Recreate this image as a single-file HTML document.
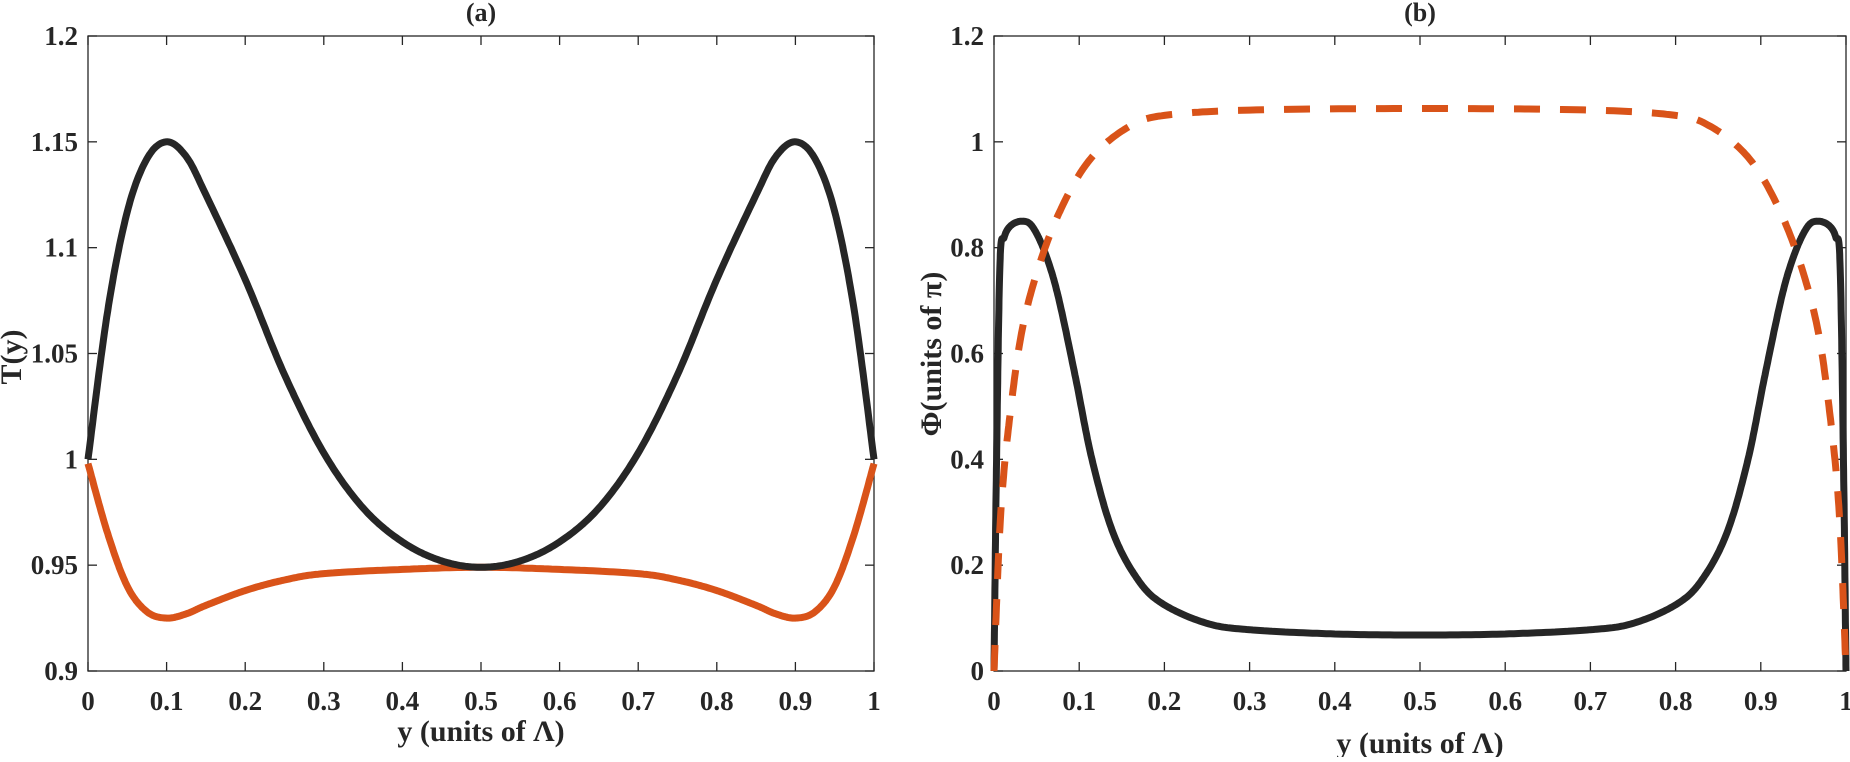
<!DOCTYPE html>
<html><head><meta charset="utf-8"><style>
html,body{margin:0;padding:0;background:#fff;}
svg text{font-family:"Liberation Serif",serif;font-weight:bold;fill:#262626;}
</style></head><body>
<svg id="s" width="1850" height="757" xmlns="http://www.w3.org/2000/svg">
<rect width="1850" height="757" fill="#fff"/>
<g id="g"></g>
</svg>
<script>
var NS="http://www.w3.org/2000/svg",g=document.getElementById('g');
function el(t,a,txt){var e=document.createElementNS(NS,t);for(var k in a)e.setAttribute(k,a[k]);if(txt!==undefined)e.textContent=txt;g.appendChild(e);return e;}
function axes(x0,x1,y0,y1,ymin,ymax,ystep,dec){
  el('rect',{x:x0,y:y0,width:x1-x0,height:y1-y0,fill:'none',stroke:'#262626','stroke-width':1.3});
  for(var i=0;i<=10;i++){var x=x0+(x1-x0)*i/10;
    el('line',{x1:x,y1:y1,x2:x,y2:y1-9,stroke:'#262626','stroke-width':1.3});
    el('line',{x1:x,y1:y0,x2:x,y2:y0+9,stroke:'#262626','stroke-width':1.3});
    var lab=i==0?'0':i==10?'1':'0.'+i;
    el('text',{x:x,y:y1+39,'text-anchor':'middle','font-size':27},lab);}
  var n=Math.round((ymax-ymin)/ystep);
  for(var j=0;j<=n;j++){var v=ymin+j*ystep,y=y1-(y1-y0)*j/n;
    el('line',{x1:x0,y1:y,x2:x0+9,y2:y,stroke:'#262626','stroke-width':1.3});
    el('line',{x1:x1,y1:y,x2:x1-9,y2:y,stroke:'#262626','stroke-width':1.3});
    var s=parseFloat(v.toFixed(dec)).toString();
    el('text',{x:x0-10,y:y+9,'text-anchor':'end','font-size':27},s);}
}
function cr(pts,n){var out=[];for(var i=0;i<pts.length-1;i++){var p0=pts[Math.max(i-1,0)],p1=pts[i],p2=pts[i+1],p3=pts[Math.min(i+2,pts.length-1)];
 for(var k=0;k<n;k++){var t=k/n,t2=t*t,t3=t2*t;
  var f=function(a,b,c,d){return 0.5*((2*b)+(-a+c)*t+(2*a-5*b+4*c-d)*t2+(-a+3*b-3*c+d)*t3);};
  out.push([f(p0[0],p1[0],p2[0],p3[0]),f(p0[1],p1[1],p2[1],p3[1])]);}}
 out.push(pts[pts.length-1]);return out;}
function mirror(h){var r=h.slice();for(var i=h.length-2;i>=0;i--)r.push([1-h[i][0],h[i][1]]);return r;}
function path(pts,x0,x1,y0,y1,ymin,ymax,col,dash,smooth){
  var c=smooth===false?pts:cr(pts,20),d='';
  c.forEach(function(p,i){var x=x0+(x1-x0)*p[0],y=y1-(y1-y0)*(p[1]-ymin)/(ymax-ymin);d+=(i?'L':'M')+x.toFixed(1)+' '+y.toFixed(1);});
  var a={d:d,fill:'none',stroke:col,'stroke-width':7,'stroke-linejoin':'round'};if(dash)a['stroke-dasharray']=dash;
  el('path',a);}
// panel a
var A=[88,874,36,671];
axes(A[0],A[1],A[2],A[3],0.9,1.2,0.05,2);
var blackA=mirror([[0,1],[0.025,1.07],[0.05,1.117],[0.075,1.142],[0.1,1.15],[0.125,1.143],[0.15,1.125],[0.2,1.085],[0.25,1.04],[0.3,1.003],[0.35,0.977],[0.4,0.961],[0.45,0.952],[0.5,0.949]]);
var orA=mirror([[0,0.998],[0.025,0.965],[0.05,0.94],[0.075,0.928],[0.1,0.925],[0.125,0.927],[0.15,0.931],[0.2,0.938],[0.25,0.943],[0.3,0.946],[0.4,0.948],[0.5,0.949]]);
path(orA,A[0],A[1],A[2],A[3],0.9,1.2,'#D95319');
path(blackA,A[0],A[1],A[2],A[3],0.9,1.2,'#262626');
el('text',{x:(A[0]+A[1])/2,y:21,'text-anchor':'middle','font-size':26},'(a)');
el('text',{x:(A[0]+A[1])/2,y:741,'text-anchor':'middle','font-size':30},'y (units of Λ)');
el('text',{x:0,y:0,'text-anchor':'middle','font-size':30,transform:'translate(21,357) rotate(-90)'},'T(y)');
// panel b
var B=[994,1846,36,671];
axes(B[0],B[1],B[2],B[3],0,1.2,0.2,1);
var orB=mirror([[0,0],[0.008,0.3],[0.02,0.5],[0.035,0.66],[0.06,0.8],[0.09,0.91],[0.12,0.98],[0.16,1.03],[0.2,1.05],[0.3,1.06],[0.5,1.063]]);
var blB=mirror([[0,0],[0.003,0.4],[0.007,0.77],[0.012,0.82],[0.02,0.842],[0.033,0.85],[0.045,0.84],[0.06,0.79],[0.075,0.71],[0.095,0.56],[0.115,0.4],[0.14,0.26],[0.17,0.17],[0.2,0.125],[0.25,0.09],[0.3,0.078],[0.4,0.07],[0.5,0.068]]);
path(blB,B[0],B[1],B[2],B[3],0,1.2,'#262626');
path(orB,B[0],B[1],B[2],B[3],0,1.2,'#D95319','26 20');
el('text',{x:(B[0]+B[1])/2,y:21,'text-anchor':'middle','font-size':26},'(b)');
el('text',{x:(B[0]+B[1])/2,y:753,'text-anchor':'middle','font-size':30},'y (units of Λ)');
el('text',{x:0,y:0,'text-anchor':'middle','font-size':30,transform:'translate(941,354) rotate(-90)'},'Φ(units of π)');
</script>
</body></html>
